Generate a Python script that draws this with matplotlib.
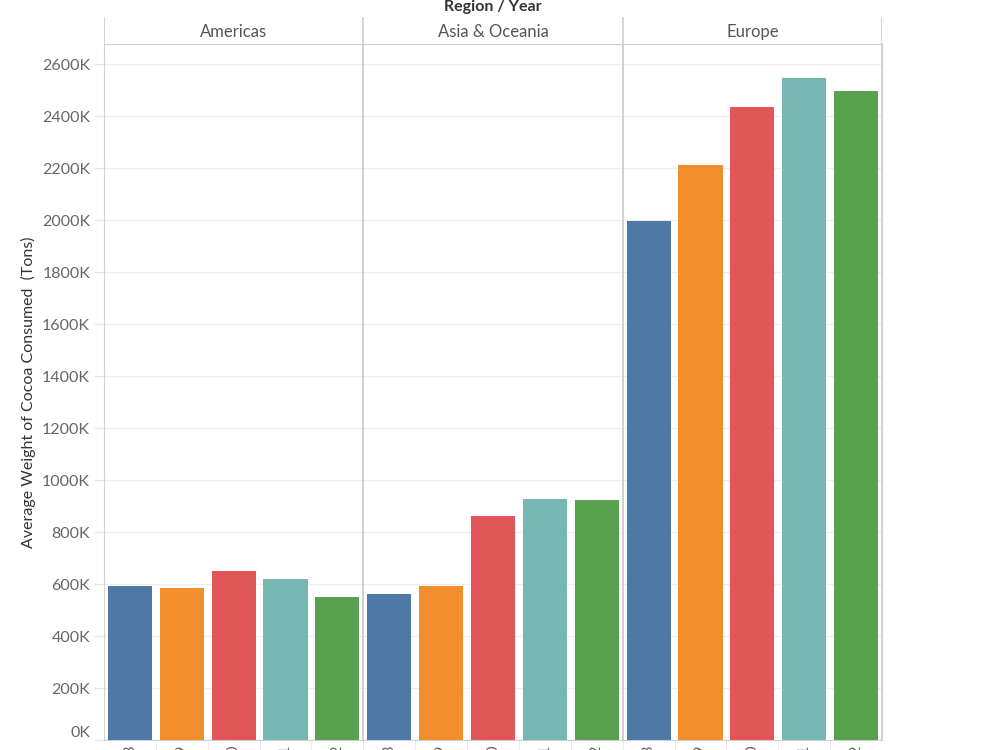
import matplotlib
matplotlib.use("Agg")
from matplotlib import pyplot as plt

plt.rcParams['font.family'] = ['Lato', 'DejaVu Sans']

regions = ["Americas", "Asia & Oceania", "Europe"]
years = ["2008", "2009", "2010", "2011", "2012"]
colors = ["#4e79a7", "#f28e2b", "#e15759", "#76b7b2", "#59a14f"]

# average cocoa consumed, thousands of tons
americas = [592, 583, 649, 618, 549]
asia_oceania = [563, 592, 863, 927, 922]
europe = [1995, 2213, 2436, 2546, 2497]

values = [americas, asia_oceania, europe]

fig = plt.figure(figsize=(10, 7.5), dpi=100)
ax = fig.add_axes([0.104, 0.0133, 0.778, 0.928])

n = len(years)
xs = []
for i, vals in enumerate(values):
    for j, v in enumerate(vals):
        x = i * n + j
        xs.append(x)
        ax.bar(x, v, width=0.85, color=colors[j], linewidth=0, zorder=3)

ax.set_xlim(-0.5, len(regions) * n - 0.5)
ax.set_ylim(0, 2677)

yt = list(range(0, 2601, 200))
ax.set_yticks(yt)
ax.set_yticklabels([f"{t}K" for t in yt], fontsize=11.5, color="#666666")
ax.get_yticklabels()[0].set_va("bottom")  # 0K sits above the bottom edge
ax.tick_params(axis="y", length=7, color="#e6e6e6", pad=3)
ax.grid(axis="y", color="#eeeeee", linewidth=0.9, zorder=0)

# year labels along the bottom (mostly cut off by the figure edge, as in the source)
ax.set_xticks(xs)
ax.set_xticklabels(years * len(regions), rotation=90, fontsize=11, color="#666666")
ax.set_xticks([x + 0.5 for x in xs[:-1]], minor=True)
ax.tick_params(axis="x", which="major", length=0, pad=3)
ax.tick_params(axis="x", which="minor", length=12, color="#e6e6e6")

for s in ["top", "right"]:
    ax.spines[s].set_visible(False)
ax.spines["left"].set_color("#d0d0d0")
ax.spines["bottom"].set_color("#d0d0d0")

for b in [n - 0.5, 2 * n - 0.5, 3 * n - 0.5]:
    ax.axvline(b, color="#c8c8c8", linewidth=1.2, zorder=4, clip_on=False)

ax.set_ylabel("Average Weight of Cocoa Consumed  (Tons)", fontsize=11.5, color="#333333", labelpad=4)

# header row with region names
hx = fig.add_axes([0.104, 0.9413, 0.778, 0.036])
hx.set_xlim(ax.get_xlim())
hx.set_ylim(0, 1)
hx.set_xticks([])
hx.set_yticks([])
for s in ["top", "left", "right"]:
    hx.spines[s].set_visible(False)
hx.spines["bottom"].set_color("#d0d0d0")
for b in [-0.5, n - 0.5, 2 * n - 0.5, 3 * n - 0.5]:
    hx.axvline(b, color="#d0d0d0", linewidth=1.2)
for i, r in enumerate(regions):
    hx.text(i * n + (n - 1) / 2, 0.45, r, ha="center", va="center", fontsize=12, color="#555555")

fig.text(0.493, 0.99, "Region / Year", ha="center", va="center", fontsize=11.5, fontweight="bold", color="#333333")

fig.savefig("out.png", dpi=100)
